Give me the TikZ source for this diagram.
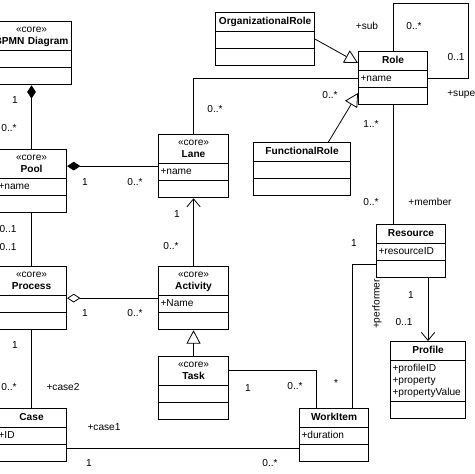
\documentclass[tikz,border=0pt]{standalone}
\usepackage{fontspec}
\setmainfont{Liberation Sans}
\usetikzlibrary{positioning, arrows.meta, calc, shapes.multipart}

\newcommand{\namestrut}{\rule[-3.2pt]{0pt}{10.5pt}}

\begin{document}
\begin{tikzpicture}[
  x=0.75pt, y=-0.75pt,
  font=\fontsize{7.6}{9}\selectfont,
  umlclass/.style={rectangle split, rectangle split parts=3, draw, line width=0.8pt,
    anchor=north west, inner xsep=1.5pt, inner ysep=1.5pt, text width=#1},
  assoc/.style={line width=0.6pt},
  compo/.style={assoc, {Diamond[length=10pt, width=6.5pt]}-},
  aggreg/.style={assoc, {Diamond[open, length=10pt, width=6.5pt]}-},
  gener/.style={assoc, -{Triangle[open, length=10pt, width=10.5pt]}},
  navarrow/.style={assoc, -{Straight Barb[length=6pt, width=10pt]}},
  mult/.style={inner sep=0pt},
]
\useasboundingbox (0,0) rectangle (474,474);

%% ── Core classes (left and middle) ──────────────────────────────────────────
\node[umlclass=57pt] (bpmn) at (-9,21) {\centering\strut«core»\\\textbf{BPMN Diagram}\strut\par
  \nodepart{second}\strut \nodepart{third}\strut};
\node[umlclass=49.5pt] (pool) at (-4,149) {\centering\strut«core»\\\textbf{Pool}\strut\par
  \nodepart{second}\strut+name \nodepart{third}\strut};
\node[umlclass=49.5pt] (process) at (-4,266) {\centering\strut«core»\\\textbf{Process}\strut\par
  \nodepart{second}\strut \nodepart{third}\strut};
\node[umlclass=49.5pt] (case) at (-4,407.5) {\centering\namestrut\textbf{Case}\par
  \nodepart{second}\strut+ID \nodepart{third}\strut};
\node[umlclass=49.5pt] (lane) at (158,134) {\centering\strut«core»\\\textbf{Lane}\strut\par
  \nodepart{second}\strut+name \nodepart{third}\strut};
\node[umlclass=49.5pt] (activity) at (158,266) {\centering\strut«core»\\\textbf{Activity}\strut\par
  \nodepart{second}\strut+Name \nodepart{third}\strut};
\node[umlclass=49.5pt] (task) at (158,356) {\centering\strut«core»\\\textbf{Task}\strut\par
  \nodepart{second}\strut \nodepart{third}\strut};
\node[umlclass=48.75pt] (workitem) at (299,407.5) {\centering\namestrut\textbf{WorkItem}\par
  \nodepart{second}\strut+duration \nodepart{third}\strut};

%% ── Role classes ─────────────────────────────────────────────────────────────
\node[umlclass=71.25pt] (orgrole) at (215,12) {\centering\namestrut\textbf{OrganizationalRole}\par
  \nodepart{second}\strut \nodepart{third}\strut};
\node[umlclass=48.75pt] (role) at (358,51) {\centering\namestrut\textbf{Role}\par
  \nodepart{second}\strut+name \nodepart{third}\strut};
\node[umlclass=69.75pt] (funcrole) at (253,142) {\centering\namestrut\textbf{FunctionalRole}\par
  \nodepart{second}\strut \nodepart{third}\strut};
\node[umlclass=48.75pt] (resource) at (376,224) {\centering\namestrut\textbf{Resource}\par
  \nodepart{second}\strut+resourceID \nodepart{third}\strut};
\node[umlclass=53.25pt] (profile) at (390,341) {\centering\namestrut\textbf{Profile}\par
  \nodepart{second}\strut+profileID\\+property\\+propertyValue\strut \nodepart{third}\strut};

%% ── Associations ─────────────────────────────────────────────────────────────
\draw[compo] (bpmn.south) -- (pool.north);
\draw[compo] (pool.east |- lane.west) -- (lane.west);
\draw[assoc] (pool.south) -- (process.north);
\draw[aggreg] (process.east) -- (activity.west);
\draw[assoc] (process.south) -- (case.north);
\draw[assoc] ([yshift=-3pt]case.two split east) -- ([yshift=-3pt]workitem.two split west);
\draw[navarrow] (activity.north) -- (lane.south);
\draw[gener] (task.north) -- (activity.south);
\draw[assoc] ($(task.north east)!.5!(task.text split east)$) -| ([xshift=12.75pt]workitem.north west);
\draw[assoc] (lane.north) |- (role.west);
\draw[gener] (orgrole.east) -- ([yshift=-9pt]role.north west);
\draw[gener] ([xshift=-17pt]funcrole.north east) -- ([yshift=-4pt]role.two split west);
\coordinate (selfloop) at (468,3);
\draw[assoc] (role.north) |- (selfloop) |- (role.east);
\draw[assoc] (role.south) -- (role.south |- resource.north);
\draw[assoc] ([yshift=-3pt]resource.two split west) -| ([xshift=-12.75pt]workitem.north east);
\draw[navarrow] (profile.north |- resource.south) -- (profile.north);

%% ── Multiplicities and role names ────────────────────────────────────────────
\foreach \x/\y/\t [count=\i] in {15/100/1, 9/128/0..*, 85/182/1, 135/182/0..*,
    8/229/0..1, 8/247/0..1, 85/313/1, 135/313/0..*, 15/345/1, 9/387/0..*,
    63/387/+case2, 104/427/+case1, 89/463/1, 270/463/0..*, 177/214/1,
    171/246/0..*, 215/109/0..*, 330/95/0..*, 367/26/+sub, 414/26/0..*,
    456/57/0..1, 371/124/1..*, 371/202/0..*, 430/202/+member, 354/243/1,
    411/295/1, 404/322/0..1, 336/383/*, 248/388/1, 295/386/0..*} {
  \node[mult] (m\i) at (\x,\y) {\t};
}
\node[mult, anchor=west] (super) at (447,95) {+super};
\node[mult, rotate=90] (performer) at (377,304) {+performer};

\end{tikzpicture}
\end{document}
